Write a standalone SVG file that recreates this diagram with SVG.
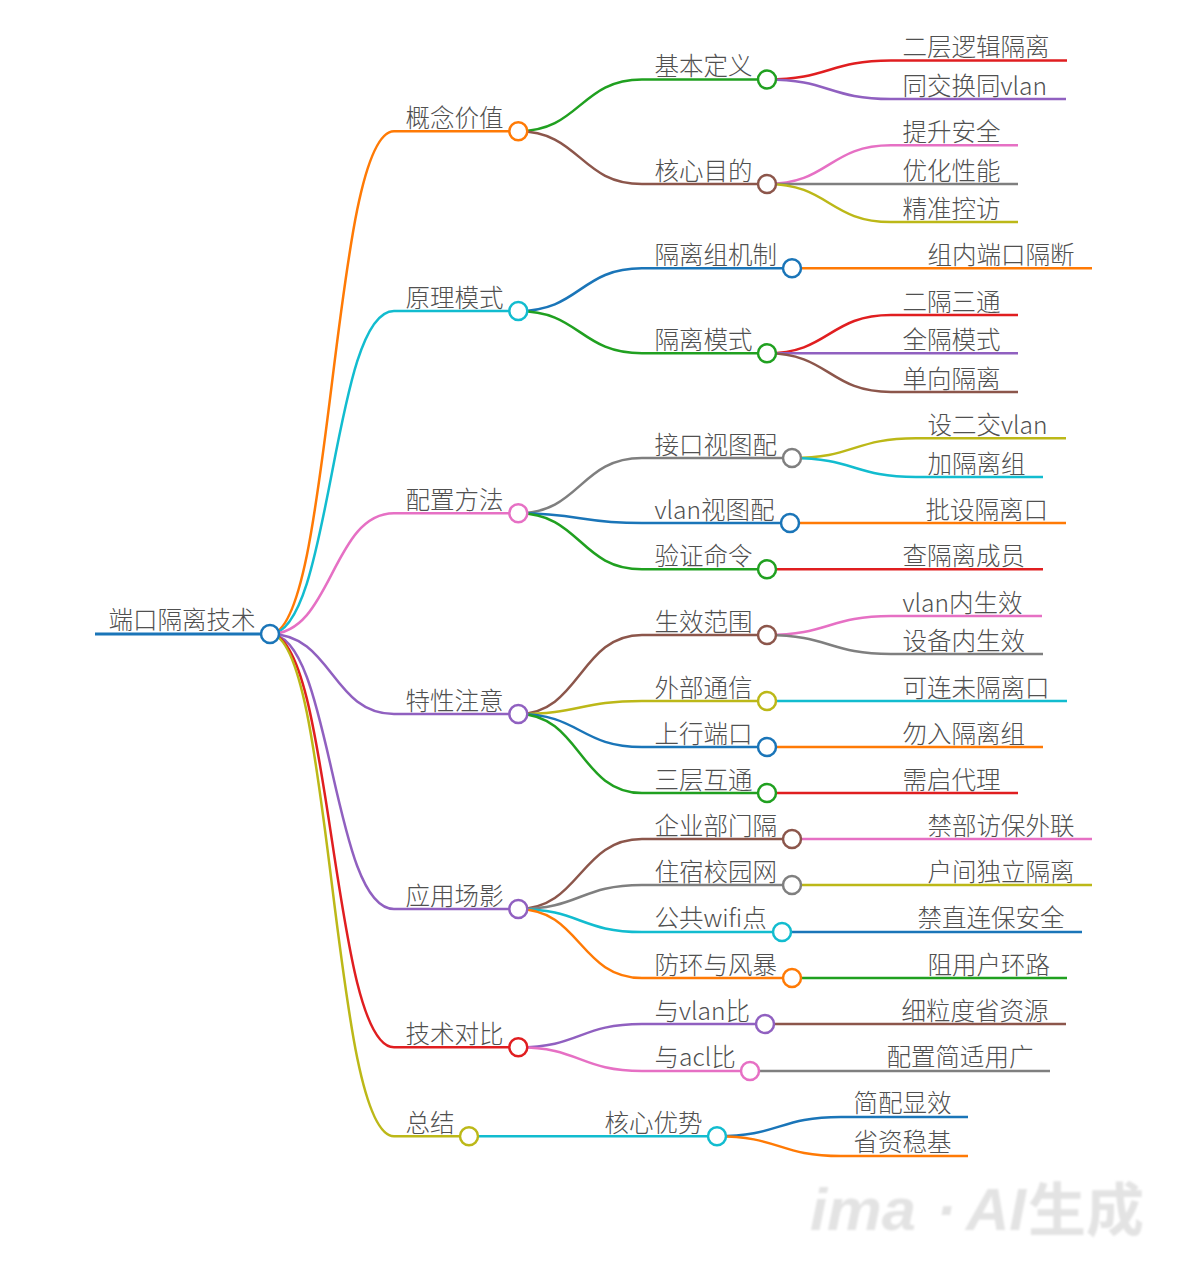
<svg xmlns="http://www.w3.org/2000/svg" width="1185" height="1280" viewBox="0 0 1185 1280">
<style>
text{font-family:"Noto Sans CJK SC","Noto Sans",sans-serif;font-weight:200;font-size:24.5px;fill:#505050}
.e{fill:none;stroke-width:2.5}
.root{stroke-width:3.2}
circle{fill:#fff;stroke-width:2.5}
.bl{stroke:#1a75b8}.or{stroke:#ff7a05}.gr{stroke:#20a020}.re{stroke:#e01e20}.pu{stroke:#9060c0}.br{stroke:#8c564b}.pi{stroke:#e670c4}.gy{stroke:#7f7f7f}.ol{stroke:#bcb818}.cy{stroke:#12bccf}
#watermark text{fill:#e3e3e3;font-weight:700}
.wm{font-family:"Liberation Sans",sans-serif;font-size:60px;font-style:italic}
.wc{font-size:58px}
</style>
<defs><filter id="soft" x="-5%" y="-20%" width="110%" height="140%"><feGaussianBlur stdDeviation="1.1"/></filter></defs>
<g id="connectors">
<path class="e bl root" d="M95 634H261"/>
<path class="e or" d="M270 634C332 634 332 131.300 394 131.300H509"/>
<path class="e cy" d="M270 634C332 634 332 311 394 311H509"/>
<path class="e pi" d="M270 634C332 634 332 513.300 394 513.300H509"/>
<path class="e pu" d="M270 634C332 634 332 714 394 714H509"/>
<path class="e pu" d="M270 634C332 634 332 909 394 909H509"/>
<path class="e re" d="M270 634C332 634 332 1047.300 394 1047.300H509"/>
<path class="e ol" d="M270 634C332 634 332 1136.300 394 1136.300H460"/>
<path class="e gr" d="M518 131.300C580 131.300 580 79.500 642 79.500H758"/>
<path class="e br" d="M518 131.300C580 131.300 580 184 642 184H758"/>
<path class="e re" d="M767 79.500C829 79.500 829 60.500 891 60.500H1067"/>
<path class="e pu" d="M767 79.500C829 79.500 829 99 891 99H1066"/>
<path class="e pi" d="M767 184C829 184 829 145.300 891 145.300H1018"/>
<path class="e gy" d="M767 184H1018"/>
<path class="e ol" d="M767 184C829 184 829 222 891 222H1018"/>
<path class="e bl" d="M518 311C580 311 580 268.300 642 268.300H783"/>
<path class="e gr" d="M518 311C580 311 580 353.300 642 353.300H758"/>
<path class="e or" d="M801 268.300H1092"/>
<path class="e re" d="M767 353.300C829 353.300 829 315 891 315H1018"/>
<path class="e pu" d="M767 353.300H1018"/>
<path class="e br" d="M767 353.300C829 353.300 829 392 891 392H1018"/>
<path class="e gy" d="M518 513.300C580 513.300 580 458 642 458H783"/>
<path class="e bl" d="M518 513.300C580 513.300 580 523 642 523H781"/>
<path class="e gr" d="M518 513.300C580 513.300 580 569.300 642 569.300H758"/>
<path class="e ol" d="M792 458C854 458 854 438.300 916 438.300H1066"/>
<path class="e cy" d="M792 458C854 458 854 477 916 477H1043"/>
<path class="e or" d="M799 523H1066"/>
<path class="e re" d="M776 569.300H1043"/>
<path class="e br" d="M518 714C580 714 580 635 642 635H758"/>
<path class="e ol" d="M518 714C580 714 580 701 642 701H758"/>
<path class="e bl" d="M518 714C580 714 580 747 642 747H758"/>
<path class="e gr" d="M518 714C580 714 580 793 642 793H758"/>
<path class="e pi" d="M767 635C829 635 829 616 891 616H1042"/>
<path class="e gy" d="M767 635C829 635 829 654 891 654H1043"/>
<path class="e cy" d="M776 701H1067"/>
<path class="e or" d="M776 747H1043"/>
<path class="e re" d="M776 793H1018"/>
<path class="e br" d="M518 909C580 909 580 839 642 839H783"/>
<path class="e gy" d="M518 909C580 909 580 885 642 885H783"/>
<path class="e cy" d="M518 909C580 909 580 932 642 932H773"/>
<path class="e or" d="M518 909C580 909 580 978 642 978H783"/>
<path class="e pi" d="M801 839H1092"/>
<path class="e ol" d="M801 885H1092"/>
<path class="e bl" d="M791 932H1082"/>
<path class="e gr" d="M801 978H1067"/>
<path class="e pu" d="M518 1047.300C580 1047.300 580 1024 642 1024H756"/>
<path class="e pi" d="M518 1047.300C580 1047.300 580 1071 642 1071H741"/>
<path class="e br" d="M774 1024H1066"/>
<path class="e gy" d="M759 1071H1050"/>
<path class="e cy" d="M478 1136.300H708"/>
<path class="e bl" d="M717 1136.300C779 1136.300 779 1117 841 1117H968"/>
<path class="e or" d="M717 1136.300C779 1136.300 779 1156 841 1156H968"/>
</g>
<g id="n0"><text x="108.500" y="629">端口隔离技术</text><circle class="bl" cx="270" cy="634" r="9"/></g>
<g id="n1"><text x="405.500" y="127">概念价值</text><circle class="or" cx="518.300" cy="131.300" r="9"/></g>
<g id="n2"><text x="654.500" y="75">基本定义</text><circle class="gr" cx="767" cy="79.500" r="9"/></g>
<g id="n3"><text x="902.500" y="56">二层逻辑隔离</text></g>
<g id="n4"><text x="902.500" y="94.500">同交换同vlan</text></g>
<g id="n5"><text x="654.500" y="179.500">核心目的</text><circle class="br" cx="767" cy="184" r="9"/></g>
<g id="n6"><text x="902.500" y="141">提升安全</text></g>
<g id="n7"><text x="902.500" y="179.500">优化性能</text></g>
<g id="n8"><text x="902.500" y="218">精准控访</text></g>
<g id="n9"><text x="405.500" y="306.500">原理模式</text><circle class="cy" cx="518.300" cy="311" r="9"/></g>
<g id="n10"><text x="654.500" y="264">隔离组机制</text><circle class="bl" cx="792" cy="268.300" r="9"/></g>
<g id="n11"><text x="927.500" y="264">组内端口隔断</text></g>
<g id="n12"><text x="654.500" y="349">隔离模式</text><circle class="gr" cx="767" cy="353.300" r="9"/></g>
<g id="n13"><text x="902.500" y="310.500">二隔三通</text></g>
<g id="n14"><text x="902.500" y="349">全隔模式</text></g>
<g id="n15"><text x="902.500" y="387.500">单向隔离</text></g>
<g id="n16"><text x="405.500" y="509">配置方法</text><circle class="pi" cx="518.300" cy="513.300" r="9"/></g>
<g id="n17"><text x="654.500" y="453.500">接口视图配</text><circle class="gy" cx="792" cy="458" r="9"/></g>
<g id="n18"><text x="927.500" y="434">设二交vlan</text></g>
<g id="n19"><text x="927.500" y="473">加隔离组</text></g>
<g id="n20"><text x="654.500" y="519">vlan视图配</text><circle class="bl" cx="790" cy="523" r="9"/></g>
<g id="n21"><text x="925.500" y="519">批设隔离口</text></g>
<g id="n22"><text x="654.500" y="565">验证命令</text><circle class="gr" cx="767" cy="569.300" r="9"/></g>
<g id="n23"><text x="902.500" y="565">查隔离成员</text></g>
<g id="n24"><text x="405.500" y="709.500">特性注意</text><circle class="pu" cx="518.300" cy="714" r="9"/></g>
<g id="n25"><text x="654.500" y="630.500">生效范围</text><circle class="br" cx="767" cy="635" r="9"/></g>
<g id="n26"><text x="902.500" y="611.500">vlan内生效</text></g>
<g id="n27"><text x="902.500" y="650">设备内生效</text></g>
<g id="n28"><text x="654.500" y="696.500">外部通信</text><circle class="ol" cx="767" cy="701" r="9"/></g>
<g id="n29"><text x="902.500" y="696.500">可连未隔离口</text></g>
<g id="n30"><text x="654.500" y="742.500">上行端口</text><circle class="bl" cx="767" cy="747" r="9"/></g>
<g id="n31"><text x="902.500" y="742.500">勿入隔离组</text></g>
<g id="n32"><text x="654.500" y="788.500">三层互通</text><circle class="gr" cx="767" cy="793" r="9"/></g>
<g id="n33"><text x="902.500" y="788.500">需启代理</text></g>
<g id="n34"><text x="405.500" y="904.500">应用场影</text><circle class="pu" cx="518.300" cy="909" r="9"/></g>
<g id="n35"><text x="654.500" y="834.500">企业部门隔</text><circle class="br" cx="792" cy="839" r="9"/></g>
<g id="n36"><text x="927.500" y="834.500">禁部访保外联</text></g>
<g id="n37"><text x="654.500" y="881">住宿校园网</text><circle class="gy" cx="792" cy="885" r="9"/></g>
<g id="n38"><text x="927.500" y="881">户间独立隔离</text></g>
<g id="n39"><text x="654.500" y="927">公共wifi点</text><circle class="cy" cx="782" cy="932" r="9"/></g>
<g id="n40"><text x="917.500" y="927">禁直连保安全</text></g>
<g id="n41"><text x="654.500" y="973.500">防环与风暴</text><circle class="or" cx="792" cy="978" r="9"/></g>
<g id="n42"><text x="927.500" y="973.500">阻用户环路</text></g>
<g id="n43"><text x="405.500" y="1042.500">技术对比</text><circle class="re" cx="518.300" cy="1047.300" r="9"/></g>
<g id="n44"><text x="654.500" y="1019.500">与vlan比</text><circle class="pu" cx="765" cy="1024" r="9"/></g>
<g id="n45"><text x="901.500" y="1019.500">细粒度省资源</text></g>
<g id="n46"><text x="654.500" y="1066">与acl比</text><circle class="pi" cx="750" cy="1071" r="9"/></g>
<g id="n47"><text x="886.500" y="1066">配置简适用广</text></g>
<g id="n48"><text x="405.500" y="1131.500">总结</text><circle class="ol" cx="469" cy="1136.300" r="9"/></g>
<g id="n49"><text x="604.500" y="1131.500">核心优势</text><circle class="cy" cx="717" cy="1136.300" r="9"/></g>
<g id="n50"><text x="853.500" y="1112">简配显效</text></g>
<g id="n51"><text x="853.500" y="1151">省资稳基</text></g>
<g id="watermark" filter="url(#soft)"><text class="wm" x="810" y="1230" textLength="106" lengthAdjust="spacingAndGlyphs">ima</text><text class="wm" x="936" y="1230">·</text><text class="wm" x="966" y="1230" textLength="60" lengthAdjust="spacingAndGlyphs">AI</text><text class="wc" x="1028" y="1231">生成</text></g>
</svg>
